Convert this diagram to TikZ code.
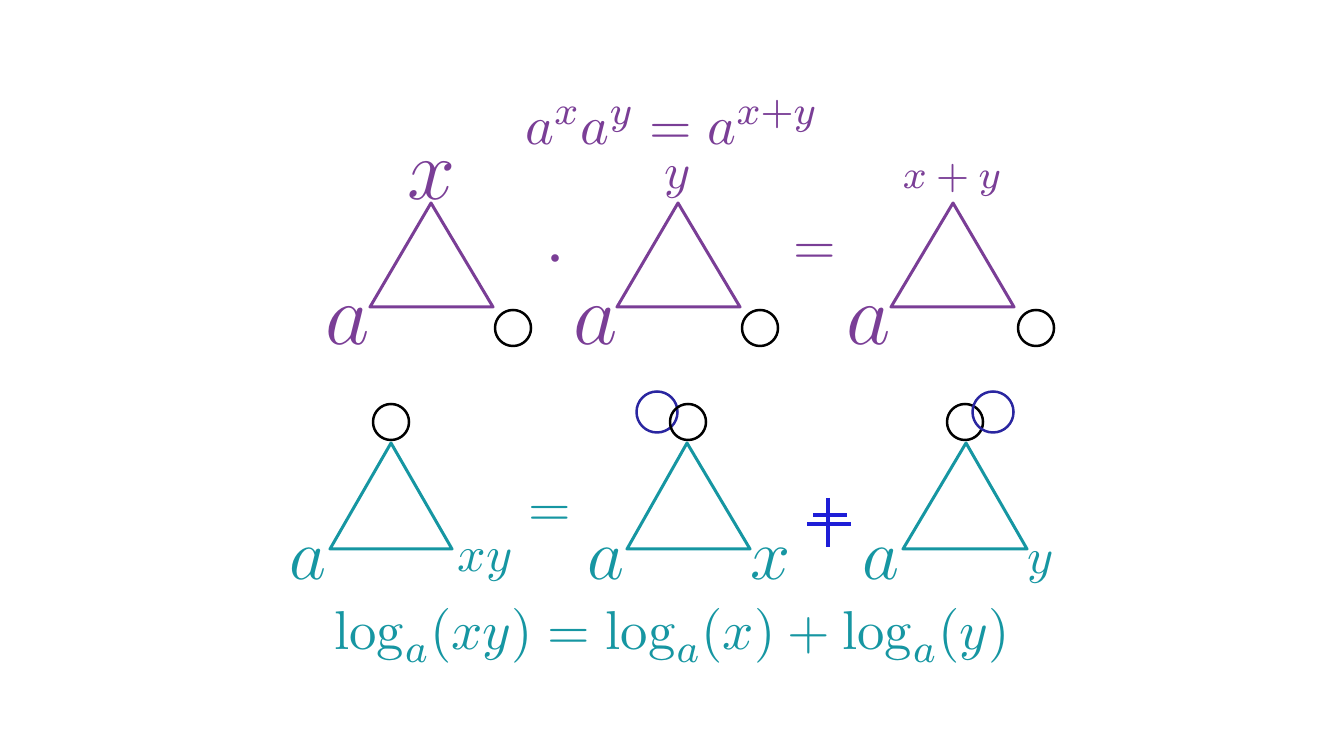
\documentclass[tikz,border=0pt]{standalone}
\usepackage{amsmath}
\definecolor{viola}{RGB}{122,62,150}
\definecolor{ottanio}{RGB}{22,150,162}
\definecolor{blu}{RGB}{42,38,160}
\definecolor{bluplus}{RGB}{30,30,215}
\tikzset{
  tri/.style={line width=0.6pt, line join=round},
  cerchio/.style={circle, draw=black, line width=0.5pt, minimum size=7.2pt, inner sep=0pt},
  cerchioblu/.style={circle, draw=blu, line width=0.5pt, minimum size=8.2pt, inner sep=0pt},
  lab/.style={inner sep=0pt},
}
\newcommand{\fs}[1]{\fontsize{#1}{#1}\selectfont}
\begin{document}
\begin{tikzpicture}[x=0.2pt, y=-0.2pt]
      \useasboundingbox (0,0) rectangle (1344,756);
      %prima riga
      \node[lab,viola] (eqsu) at (672,122) {\fs{11}$a^xa^y=a^{x+y}$};
      \coordinate (t1t) at (431,203); \coordinate (t1l) at (370,307); \coordinate (t1r) at (493,307);
      \coordinate (t2t) at (678,203); \coordinate (t2l) at (617,307); \coordinate (t2r) at (740,307);
      \coordinate (t3t) at (953,203); \coordinate (t3l) at (891,307); \coordinate (t3r) at (1014,307);
      \draw[tri,viola] (t1l) -- (t1t) -- (t1r) -- cycle;
      \draw[tri,viola] (t2l) -- (t2t) -- (t2r) -- cycle;
      \draw[tri,viola] (t3l) -- (t3t) -- (t3r) -- cycle;
      \node[lab,viola] (x1) at (432,181) {\fs{16}$x$};
      \node[lab,viola] (y2) at (678,183) {\fs{10}$y$};
      \node[lab,viola] (xy3) at (952,180) {\fs{8.5}$x+y$};
      \node[lab,viola] (a1) at (348,326) {\fs{17}$a$};
      \node[lab,viola] (a2) at (596,326) {\fs{17}$a$};
      \node[lab,viola] (a3) at (869,326) {\fs{17}$a$};
      \node[cerchio] (c1) at (513,328) {};
      \node[cerchio] (c2) at (760,328) {};
      \node[cerchio] (c3) at (1036,328) {};
      \node[lab,viola] (per) at (555,261) {\fs{14}$\cdot$};
      \node[lab,viola] (ug1) at (815,254) {\fs{11}$=$};
      %seconda riga
      \coordinate (t4t) at (391,443); \coordinate (t4l) at (330,549); \coordinate (t4r) at (452,549);
      \coordinate (t5t) at (687,443); \coordinate (t5l) at (627,549); \coordinate (t5r) at (750,549);
      \coordinate (t6t) at (966,443); \coordinate (t6l) at (903,549); \coordinate (t6r) at (1027,549);
      \draw[tri,ottanio] (t4l) -- (t4t) -- (t4r) -- cycle;
      \draw[tri,ottanio] (t5l) -- (t5t) -- (t5r) -- cycle;
      \draw[tri,ottanio] (t6l) -- (t6t) -- (t6r) -- cycle;
      \node[cerchio] (c4) at (391,422) {};
      \node[cerchioblu] (b5) at (657,412) {};
      \node[cerchio] (c5) at (688,422) {};
      \node[cerchio] (c6) at (965,422) {};
      \node[cerchioblu] (b6) at (993,412) {};
      \node[lab,ottanio] (a4) at (308,564) {\fs{15}$a$};
      \node[lab,ottanio] (a5) at (606,564) {\fs{15}$a$};
      \node[lab,ottanio] (a6) at (881,564) {\fs{15}$a$};
      \node[lab,ottanio] (xy4) at (485,566) {\fs{10}$xy$};
      \node[lab,ottanio] (x5) at (771,564) {\fs{15}$x$};
      \node[lab,ottanio] (y6) at (1041,568) {\fs{10}$y$};
      \node[lab,ottanio] (ug2) at (550,516) {\fs{11}$=$};
      %piu
      \coordinate (pv1) at (828,498); \coordinate (pv2) at (828,547);
      \coordinate (ph1) at (813,515); \coordinate (ph2) at (847,515);
      \coordinate (ph3) at (807,524); \coordinate (ph4) at (851,524);
      \draw[bluplus,line width=0.75pt] (pv1) -- (pv2);
      \draw[bluplus,line width=0.75pt] (ph1) -- (ph2);
      \draw[bluplus,line width=0.75pt] (ph3) -- (ph4);
      %logaritmi
      \node[lab,ottanio] (eqgiu) at (672,636) {\fs{11.4}$\log_a(xy)=\log_a(x)+\log_a(y)$};
    \end{tikzpicture}
\end{document}
